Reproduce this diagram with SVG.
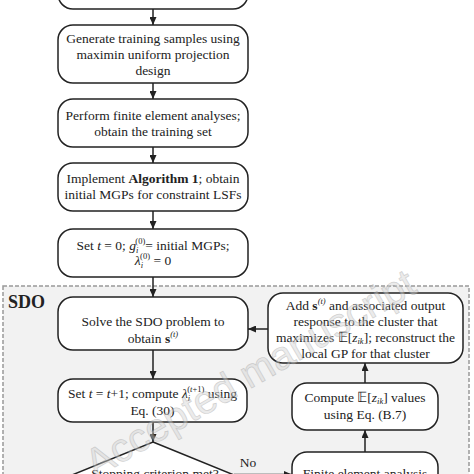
<svg xmlns="http://www.w3.org/2000/svg" width="474" height="474" viewBox="0 0 474 474">
<style>
.box{fill:#fff;stroke:#222;stroke-width:1.5}
.t{font-family:"Liberation Serif","Times New Roman",Times,serif;font-size:13.5px;fill:#222;text-anchor:middle}
.i{font-style:italic}
.b{font-weight:bold}
.sup{font-size:8.5px}
.con{stroke:#222;stroke-width:1.5;fill:none;marker-end:url(#ah)}
.wm{font-family:"Liberation Sans",Arial,sans-serif;font-size:40px;fill:#d4d4d4;stroke:#999;stroke-width:0.7;opacity:0.45;text-anchor:middle}
</style>
<defs>
<marker id="ah" markerWidth="8" markerHeight="7" refX="8" refY="3.5" orient="auto" markerUnits="userSpaceOnUse">
<path d="M0,0 L8,3.5 L0,7 z" fill="#222"/>
</marker>
</defs>
<rect width="474" height="474" fill="#fff"/>
<g id="sdo-region">
<rect x="3" y="286" width="466" height="220" fill="#f2f2f2" stroke="#999" stroke-width="1.5" stroke-dasharray="4 2"/>
<text x="8" y="308" font-family="'Liberation Serif','Times New Roman',serif" font-size="18" font-weight="bold" fill="#222">SDO</text>
</g>
<g id="n0"><rect class="box" x="58" y="-40" width="190" height="49" rx="15"/></g>
<g id="n1"><rect class="box" x="58" y="25" width="190" height="58" rx="15"/>
<text class="t" x="153" y="42.5">Generate training samples using</text>
<text class="t" x="153" y="58.5">maximin uniform projection</text>
<text class="t" x="153" y="74.5">design</text></g>
<g id="n2"><rect class="box" x="58" y="99" width="190" height="48" rx="15"/>
<text class="t" x="153" y="119.5">Perform finite element analyses;</text>
<text class="t" x="153" y="135.5">obtain the training set</text></g>
<g id="n3"><rect class="box" x="58" y="163" width="190" height="48" rx="15"/>
<text class="t" x="153" y="183">Implement <tspan class="b">Algorithm 1</tspan>; obtain</text>
<text class="t" x="153" y="199">initial MGPs for constraint LSFs</text></g>
<g id="n4"><rect class="box" x="58" y="229" width="190" height="48" rx="15"/>
<text class="t" x="153" y="249.5">Set <tspan class="i">t</tspan> = 0;  <tspan class="i">g</tspan><tspan class="i sup" dy="3">i</tspan><tspan class="sup" dx="-3" dy="-9">(0)</tspan><tspan dy="6">= initial MGPs;</tspan></text>
<text class="t" x="153" y="265"><tspan class="i">λ</tspan><tspan class="i sup" dy="3">i</tspan><tspan class="sup" dx="-3" dy="-9">(0)</tspan><tspan dy="6"> = 0</tspan></text></g>
<g id="n5"><rect class="box" x="58" y="297" width="190" height="53" rx="15"/>
<text class="t" x="153" y="326">Solve the SDO problem to</text>
<text class="t" x="153" y="343">obtain <tspan class="b">s</tspan><tspan class="i sup" dy="-6">(t)</tspan></text></g>
<g id="n6"><rect class="box" x="268" y="293" width="195" height="70" rx="15"/>
<text class="t" x="365.5" y="310">Add <tspan class="b">s</tspan><tspan class="i sup" dy="-6">(t)</tspan><tspan dy="6"> and associated output</tspan></text>
<text class="t" x="365.5" y="326">response to the cluster that</text>
<text class="t" x="365.5" y="342">maximizes 𝔼[<tspan class="i">z</tspan><tspan class="i sup" dy="2">ik</tspan><tspan dy="-2">]; reconstruct the</tspan></text>
<text class="t" x="365.5" y="358">local GP for that cluster</text></g>
<g id="n7"><rect class="box" x="58" y="379" width="189" height="43" rx="15"/>
<text class="t" x="152.5" y="398">Set <tspan class="i">t</tspan> = <tspan class="i">t</tspan>+1; compute <tspan class="i">λ</tspan><tspan class="i sup" dy="3">i</tspan><tspan class="sup" dx="-3" dy="-9">(<tspan class="i">t</tspan>+1)</tspan><tspan dy="6"> using</tspan></text>
<text class="t" x="152.5" y="415">Eq. (30)</text></g>
<g id="n8"><polygon class="box" points="153,442 234,475 153,508 72,475"/>
<text class="t" x="155" y="478">Stopping criterion met?</text></g>
<g id="n9"><rect class="box" x="292" y="383" width="146" height="47" rx="15"/>
<text class="t" x="365" y="402">Compute 𝔼[<tspan class="i">z</tspan><tspan class="i sup" dy="2">ik</tspan><tspan dy="-2">] values</tspan></text>
<text class="t" x="365" y="419">using Eq. (B.7)</text></g>
<g id="n10"><rect class="box" x="292" y="452" width="146" height="50" rx="15"/>
<text class="t" x="365" y="478">Finite element analysis</text></g>
<g id="connectors">
<line class="con" x1="153" y1="9" x2="153" y2="25"/>
<line class="con" x1="153" y1="83" x2="153" y2="99"/>
<line class="con" x1="153" y1="147" x2="153" y2="163"/>
<line class="con" x1="153" y1="211" x2="153" y2="229"/>
<line class="con" x1="153" y1="277" x2="153" y2="297"/>
<line class="con" x1="268" y1="329" x2="248" y2="329"/>
<line class="con" x1="153" y1="350" x2="153" y2="379"/>
<line class="con" x1="153" y1="422" x2="153" y2="442"/>
<line class="con" x1="234" y1="474.5" x2="292" y2="474.5"/>
<line class="con" x1="365" y1="452" x2="365" y2="430"/>
<line class="con" x1="365" y1="383" x2="365" y2="363"/>
<text class="t" x="248" y="467">No</text>
</g>
<text class="wm" x="257" y="385" transform="rotate(-30 257 385)">Accepted manuscript</text>
</svg>
